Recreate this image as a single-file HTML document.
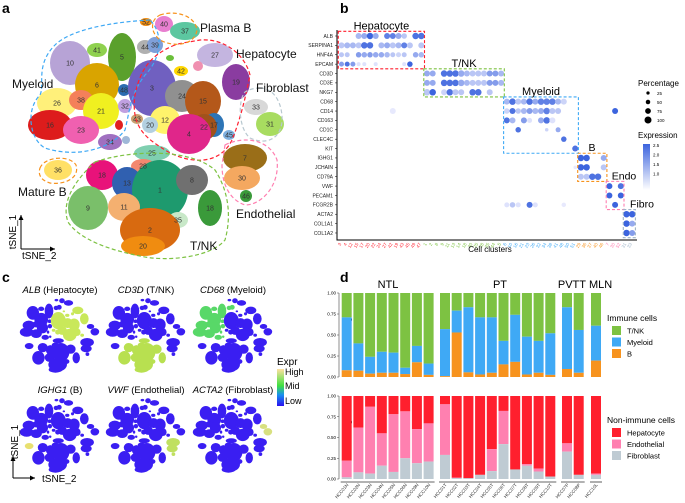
<!DOCTYPE html>
<html><head><meta charset="utf-8"><style>
html,body{margin:0;padding:0;background:#fff}
svg{display:block;font-family:"Liberation Sans",sans-serif}
</style></head><body>
<svg id="fig" width="685" height="503" viewBox="0 0 685 503" xmlns="http://www.w3.org/2000/svg">
<g id="pa"></g>
<g id="pb"></g>
<g id="pc"></g>
<g id="pd"></g>
</svg>
<script>
const NS="http://www.w3.org/2000/svg";
function mk(p,t,a,txt){const e=document.createElementNS(NS,t);for(const k in a)e.setAttribute(k,a[k]);if(txt!==undefined)e.textContent=txt;p.appendChild(e);return e;}

/* ---------- Panel a: tSNE clusters ---------- */
const clusterLabels=["10","41","5","44","39","52","40","37","27","47","42","49","19","6","48","26","38","21","32","3","24","15","17","22","12","20","43","4","16","23","50","34","53","45","33","31","7","30","46","36","25","28","18","13","1","8","11","9","18","35","2","20"];
const clusterX=[70,97,122,145,155,146,164,185,215,170,181,198,236,97,124,57,81,101,125,152,182,203,214,204,165,150,137,189,50,81,119,110,126,229,256,270,245,242,246,58,152,143,102,127,160,192,124,88,210,178,150,143];
const clusterY=[63,50,57,47,45,22,24,31,55,58,71,66,82,85,90,103,100,111,106,88,96,101,125,127,120,125,119,134,125,130,125,142,140,135,107,124,158,178,196,170,153,166,175,183,190,180,207,208,208,220,230,246];
const clusterRX=[20,10,14,8,8,6,9,15,18,4,7,5,14,22,6,20,12,18,7,24,17,18,10,13,15,8,6,22,22,18,4,12,4,6,12,14,22,18,6,14,18,12,16,15,28,16,16,20,12,10,30,22];
const clusterRY=[22,7,24,7,8,4,8,9,12,3,5,5,18,22,6,15,10,18,7,28,16,20,12,13,14,8,5,20,15,14,5,8,4,5,8,12,14,12,6,10,8,7,15,16,30,15,14,22,18,8,22,10];
const clusterColor=["#b7a3d6","#8fd14f","#5aa02c","#b0b0b0","#7f9fd8","#f08c10","#e87fd0","#5cc7a0","#c4b5e0","#6bbf3a","#ffd700","#f090b0","#8a3ca0","#d9a400","#2b6cb0","#fff07a","#f4805a","#f0f020","#c0a0e0","#7060c0","#909090","#b4581a","#2e75b6","#a0521b","#fff36b","#b3d0e0","#c8a070","#e0268a","#dd1c1c","#f060b0","#e02020","#a070c0","#9fb8d8","#7fb0e0","#d8d8d8","#a8dc60","#9a6e18","#f4a860","#3a9a3a","#ffe066","#7fcfb0","#f48870","#e8127a","#3060b0","#1e9a6e","#707070","#f4b070","#7abf6a","#3a9a3a","#c8e8c8","#d86a10","#f08c10"];
const clusterGroup=["M","M","M","M","M","P","P","P","H","H","H","H","H","M","M","M","M","M","M","H","H","H","H","H","H","H","H","H","M","M","M","M","M","H","F","F","E","E","E","MB","T","T","T","T","T","T","T","T","T","T","T","T"];

const pa=document.getElementById('pa');
mk(pa,'text',{x:2,y:13,'font-size':14,'font-weight':'bold',},'a');
const gclu=mk(pa,'g',{});
clusterLabels.forEach((l,i)=>{
  const e=mk(gclu,'ellipse',{cx:clusterX[i],cy:clusterY[i],rx:clusterRX[i],ry:clusterRY[i],fill:clusterColor[i]});
  
  
});
clusterLabels.forEach((l,i)=>{
  if(clusterRX[i]<6)return;
  const t=mk(gclu,'text',{x:clusterX[i],y:clusterY[i]+2.5,'font-size':7,'text-anchor':'middle',fill:'#333'},l);
  
  
});
const outlines=[
 ["myeloid-outline","#3fa9f5","M150,20 C110,22 70,30 55,45 C35,65 45,85 40,95 C25,110 30,140 45,148 C75,158 110,150 125,130 C130,110 130,95 145,75 C160,60 165,35 150,20Z"],
 ["hepatocyte-outline","#ff2030","M175,45 C150,55 140,70 135,95 C130,130 150,140 165,150 C190,165 220,165 232,140 C240,120 245,100 250,75 C245,55 225,38 200,40 C190,42 180,43 175,45Z"],
 ["plasma-b-outline","#f7931e","M160,15 C175,10 195,15 197,30 C195,45 175,48 160,40 C150,32 150,20 160,15Z"],
 ["fibroblast-outline","#b8c8d0","M260,88 C275,88 283,105 282,122 C280,140 265,145 250,138 C238,128 238,100 245,92 C250,89 255,88 260,88Z"],
 ["endothelial-outline","#ff7fb0","M225,145 C245,135 270,140 277,160 C280,185 262,205 245,205 C230,200 222,185 222,165Z"],
 ["tnk-outline","#7dc242","M95,162 C130,150 190,148 215,170 C228,190 232,215 225,240 C210,258 165,262 140,256 C110,250 80,240 68,222 C62,205 70,185 95,162Z"],
 ["mature-b-outline","#f7931e","M40,168 C45,156 70,155 76,165 C80,178 65,185 50,183 C40,180 38,174 40,168Z"]];
outlines.forEach(o=>{
  const p=mk(pa,'path',{d:o[2],fill:'none',stroke:o[1],'stroke-width':1.2,'stroke-dasharray':'4,2.5'});
  
  
});
[["Plasma B",200,32],["Hepatocyte",236,58],["Fibroblast",256,92],["Myeloid",12,88],["Mature B",18,196],["Endothelial",236,218],["T/NK",190,250]].forEach(l=>{
  const t=mk(pa,'text',{x:l[1],y:l[2],'font-size':12,fill:'#111'},l[0]);
  
  
});
function arrows(g,x,y,len,lab1x,lab1y,lab2x,lab2y,name){
  const a=mk(g,'g',{});
  mk(a,'path',{d:`M${x},${y} V${y-len} M${x},${y} H${x+len}`,stroke:'#000','stroke-width':1,fill:'none'});
  mk(a,'path',{d:`M${x-2.5},${y-len+5} L${x},${y-len} L${x+2.5},${y-len+5}Z M${x+len-5},${y-2.5} L${x+len},${y} L${x+len-5},${y+2.5}Z`,fill:'#000'});
  mk(a,'text',{x:lab1x,y:lab1y,'font-size':10,transform:`rotate(-90 ${lab1x} ${lab1y})`,'text-anchor':'middle'},'tSNE_1');
  mk(a,'text',{x:lab2x,y:lab2y,'font-size':10},'tSNE_2');
}
arrows(pa,21,249,34,16,232,22,259,'tsne-axis-arrows-a');

/* ---------- Panel b: dot plot ---------- */
const genes=["ALB","SERPINA1","HNF4A","EPCAM","CD3D","CD3E","NKG7","CD68","CD14","CD163","CD1C","CLEC4C","KIT","IGHG1","JCHAIN","CD79A","VWF","PECAM1","FCGR2B","ACTA2","COL1A1","COL1A2"];
const clusterOrder=["3","4","12","15","17","20","22","24","27","42","19","43","45","49","47","1","2","8","9","11","13","14","18","20","25","28","35","44","5","6","10","16","21","23","26","32","34","38","41","48","50","51","29","36","37","40","46","7","30","52","31","33"];
const dotGene=[0,0,0,0,0,0,0,0,0,0, 1,1,1,1,1,1,1,1,1,1,1,1,1, 2,2,2,2,2,2,2,2,2,2,2,2,2, 3,3,3,3,3,3,3,3, 4,4,4,4,4,4,4,4,4,4,4,4,4, 5,5,5,5,5,5,5,5,5,5,5,5,5, 6,6,6,6,6,6,6,6,6, 7,7,7,7,7,7,7,7,7,7,7, 8,8,8,8,8,8,8,8,8,8,8,8, 9,9,9,9,9,9,9, 10,10,10, 11, 12, 13,13,13, 14,14,14,14, 15,15,15,15, 16,16, 17,17, 18,18,18,18,18,18,18, 19,19, 20,20, 21,21];
const dotCol=[3,4,5,6,8,9,10,11,13,14, 0,1,2,3,4,5,7,8,9,10,11,12,14, 0,1,3,4,5,6,7,8,9,10,11,13,14, 0,1,2,3,4,6,11,12, 15,16,18,19,20,21,22,23,24,25,26,27,28, 15,16,18,19,20,21,22,23,24,25,26,27,28, 15,16,18,19,20,21,23,24,26, 29,30,31,32,33,34,35,36,37,38,39, 9,29,30,31,32,33,34,35,36,37,38,48, 29,30,32,33,35,36,37, 31,36,38, 39, 41, 42,43,46, 41,42,43,46, 42,43,44,45, 47,49, 47,49, 29,30,31,33,34,39,48, 50,51, 50,51, 50,51];
const dotPct=[.8,.8,.9,.8,.8,.8,.8,.7,.9,.9, .8,.8,.8,.8,.9,.9,.8,.8,.8,.8,.8,.8,.8, .6,.6,.7,.7,.7,.7,.7,.7,.6,.6,.6,.7,.7, .6,.6,.6,.4,.4,.4,.4,.7, .8,.8,.9,.9,.9,.9,.8,.8,.8,.8,.8,.8,.8, .8,.8,.9,.9,.9,.9,.8,.8,.8,.8,.8,.8,.8, .9,.9,.8,.9,.8,.8,.9,.9,.8, .8,.9,.8,.8,.9,.8,.9,.9,.9,.8,.8, .8,.7,.8,.7,.8,.8,.8,.8,.9,.8,.8,.8, .8,.8,.8,.6,.8,.9,.8, .7,.3,.6, .7, .8, .9,.9,.8, .3,.9,.9,.8, .8,.8,.9,.9, .8,.8, .8,.8, .6,.7,.6,.8,.6,.5,.8, .9,.9, .9,.8, .9,.8];
const dotExpr=[.4,.5,1,.5,.8,.8,.5,.3,.9,.9, .3,.4,.4,.3,.9,.9,.4,.5,.3,.4,.8,.3,.3, .3,.3,.6,.5,.6,.5,.5,.4,.3,.2,.3,.5,.4, .6,.9,.6,.1,.1,.1,.1,1, .5,.5,.9,.9,.9,.5,.4,.3,.3,.3,.6,.6,.4, .5,.5,.9,.9,.9,.5,.4,.3,.3,.3,.6,.6,.4, .3,1,.2,.9,.3,.3,.9,.9,.3, .4,.9,.3,.4,.9,.5,.8,.8,.8,.4,.2, .05,.2,.9,.3,.4,.6,.4,.5,.8,.3,.3,1, .9,.4,.6,.1,.5,.9,.1, .9,.2,.5, .9, .9, 1,1,.5, .05,1,1,.3, .3,.3,.9,.9, 1,.9, 1,1, .1,.3,.1,.9,.1,.05,1, 1,1, 1,.5, 1,.6];
const groupNames=["Hepatocyte","T/NK","Myeloid","B","Endo","Fibro"];
const groupColStart=[0,15,29,42,47,50];
const groupColEnd=[14,28,41,46,49,51];
const groupRowStart=[0,4,7,13,16,19];
const groupRowEnd=[3,6,12,15,18,21];
const groupColor=["#ff1f2e","#7dc242","#3fa9f5","#f7931e","#ff7fb0","#9fb4c8"];
const groupTitleX=[0,0,0,592,624,642];
const pctLegend=[25,50,75,100];
const exprTicks=[2.5,2.0,1.5,1.0];

const pb=document.getElementById('pb');
const bx=c=>341.5+5.7*c, by=r=>36+9.38*r;
const br=p=>1+2.5*p;
function ecol(e){const a=[240,240,255],b=[60,100,222];return `rgb(${a.map((v,i)=>Math.round(v+(b[i]-v)*e)).join(',')})`;}
mk(pb,'text',{x:340,y:13,'font-size':14,'font-weight':'bold',},'b');
mk(pb,'path',{d:`M337,30 V240 H637`,stroke:'#000','stroke-width':1,fill:'none',});
genes.forEach((g,r)=>{
  const t=mk(pb,'text',{x:333,y:by(r)+1.8,'font-size':5,'text-anchor':'end',fill:'#222'},g);
  
  
  mk(pb,'line',{x1:335,x2:337,y1:by(r),y2:by(r),stroke:'#000','stroke-width':.5});
});
clusterOrder.forEach((c,i)=>{
  let gi=0;for(let k=0;k<groupColStart.length;k++)if(i>=groupColStart[k]&&i<=groupColEnd[k])gi=k;
  const x=bx(i),y=244;
  const t=mk(pb,'text',{x:x,y:y,'font-size':4.5,fill:groupColor[gi],'text-anchor':'end',transform:`rotate(-60 ${x} ${y})`},c);
  
  
});
dotGene.forEach((g,i)=>{
  const d=mk(pb,'circle',{cx:bx(dotCol[i]),cy:by(g),r:br(dotPct[i]),fill:ecol(dotExpr[i])});
  
  
});
groupNames.forEach((n,k)=>{
  const x1=bx(groupColStart[k])-3.2,x2=bx(groupColEnd[k])+3.2,y1=by(groupRowStart[k])-4.7,y2=by(groupRowEnd[k])+4.7;
  const r=mk(pb,'rect',{x:x1,y:y1,width:x2-x1,height:y2-y1,fill:'none',stroke:groupColor[k],'stroke-width':1.1,'stroke-dasharray':'3,2'});
  
  
  const lx=k<3?(x1+x2)/2:groupTitleX[k];
  const t=mk(pb,'text',{x:lx,y:y1-2,'font-size':k<3?11:10.5,'text-anchor':'middle'},n);
  
  
});
mk(pb,'text',{x:490,y:252,'font-size':8,'text-anchor':'middle',},'Cell clusters');
mk(pb,'text',{x:638,y:86,'font-size':8,},'Percentage');
pctLegend.forEach((p,i)=>{
  const c=mk(pb,'circle',{cx:648,cy:93+9*i,r:br(p/100),fill:'#000'});
  
  
  mk(pb,'text',{x:657,y:95+9*i,'font-size':4.5},String(p));
});
mk(pb,'text',{x:638,y:138,'font-size':8,},'Expression');
const defs=mk(document.getElementById('fig'),'defs',{});
const lg=mk(defs,'linearGradient',{id:'eg',x1:0,y1:1,x2:0,y2:0});
mk(lg,'stop',{offset:0,'stop-color':'#fff'});mk(lg,'stop',{offset:1,'stop-color':'#3c64de'});
mk(pb,'rect',{x:643,y:144,width:7,height:46,fill:'url(#eg)',});
exprTicks.forEach((v,i)=>mk(pb,'text',{x:653,y:147+9.5*i,'font-size':4.5},v.toFixed(1)));

/* ---------- Panel c: feature plots ---------- */
const featGene=["ALB","CD3D","CD68","IGHG1","VWF","ACTA2"];
const featCell=["(Hepatocyte)","(T/NK)","(Myeloid)","(B)","(Endothelial)","(Fibroblast)"];
const featGroup=["H","T","M","MB","E","F"];
const featHighColor=["#c9e85a","#b8e050","#58d868","#e8e070","#c0e060","#d8e080"];
const pc=document.getElementById('pc');
mk(pc,'text',{x:2,y:282,'font-size':14,'font-weight':'bold',},'c');
const fX=[22,108,195],fY=[298,398];
featGene.forEach((g,k)=>{
  const ox=fX[k%3],oy=fY[Math.floor(k/3)],s=0.31;
  const grp=mk(pc,'g',{});
  
  
  const t=mk(grp,'text',{x:ox+38,y:oy-5,'font-size':9.5,'text-anchor':'middle'});
  mk(t,'tspan',{'font-style':'italic'},g);mk(t,'tspan',{},' '+featCell[k]);
  const m=mk(grp,'g',{transform:`translate(${ox-35*s},${oy-15*s}) scale(${s})`});
  clusterLabels.forEach((l,i)=>{
    const hi=clusterGroup[i]===featGroup[k];
    mk(m,'ellipse',{cx:clusterX[i],cy:clusterY[i],rx:clusterRX[i],ry:clusterRY[i],fill:hi?featHighColor[k]:'#3a1ef2'});
  });
});
mk(pc,'text',{x:277,y:365,'font-size':10,},'Expr');
const lg2=mk(defs,'linearGradient',{id:'cg',x1:0,y1:1,x2:0,y2:0});
mk(lg2,'stop',{offset:0,'stop-color':'#2a10f0'});mk(lg2,'stop',{offset:.3,'stop-color':'#1890f0'});mk(lg2,'stop',{offset:.55,'stop-color':'#40e040'});mk(lg2,'stop',{offset:1,'stop-color':'#ffe0a0'});
mk(pc,'rect',{x:277,y:369,width:7,height:37,fill:'url(#cg)',});
[["High",375],["Mid",389],["Low",404]].forEach(l=>mk(pc,'text',{x:285,y:l[1],'font-size':9},l[0]));
arrows(pc,13,478,22,18,442,42,482,'tsne-axis-arrows-c');

/* ---------- Panel d: stacked bars ---------- */
const samples=["HCC01N","HCC02N","HCC03N","HCC04N","HCC05N","HCC06N","HCC09N","HCC10N","HCC01T","HCC02T","HCC03T","HCC04T","HCC05T","HCC06T","HCC07T","HCC08T","HCC09T","HCC10T","HCC07P","HCC08P","HCC10L"];
const sampleGroup=[0,0,0,0,0,0,0,0,1,1,1,1,1,1,1,1,1,1,2,2,3];
const groupLabels=["NTL","PT","PVTT","MLN"];
const tnk=[.29,.60,.76,.70,.71,.89,.63,.84,.43,.21,.17,.29,.29,.57,.26,.52,.57,.48,.17,.44,.39];
const myeloid=[.63,.325,.20,.25,.24,.075,.195,.135,.56,.26,.775,.68,.66,.28,.56,.45,.38,.495,.735,.51,.415];
const bcell=[.08,.075,.04,.05,.05,.035,.175,.025,.01,.53,.055,.03,.05,.15,.18,.03,.05,.025,.095,.05,.195];
const hepatocyte=[.78,.38,.13,.45,.22,.185,.40,.33,.10,.985,.99,.95,.64,.18,.885,.82,.875,.97,.57,.95,.935];
const endothelial=[.20,.54,.805,.39,.695,.565,.41,.46,.61,.005,0,0,.265,.40,0,.02,.035,0,.10,0,.015];
const fibroblast=[.02,.08,.065,.16,.085,.25,.19,.21,.29,.01,.01,.05,.095,.42,.115,.16,.09,.03,.33,.05,.05];
const yTicks=[1,.75,.5,.25,0];
const pd=document.getElementById('pd');
mk(pd,'text',{x:340,y:282,'font-size':14,'font-weight':'bold',},'d');
const groupStartX=[341.7,440,562,591],step=11.7,bw=10;
const xPos=i=>{const g=sampleGroup[i];let n=0;for(let j=0;j<i;j++)if(sampleGroup[j]===g)n++;return groupStartX[g]+n*step;};
const panels=[{top:293,bot:377,series:[tnk,myeloid,bcell],colors:["#7dc242","#3fa9f5","#f7931e"],names:["tnk","myeloid","b"]},
              {top:396,bot:479,series:[hepatocyte,endothelial,fibroblast],colors:["#ff1f2e","#ff80b0","#bfcbd3"],names:["hepatocyte","endothelial","fibroblast"]}];
panels.forEach((P,pi)=>{
  const ys=v=>P.bot-(P.bot-P.top)*v;
  const H=P.bot-P.top;
  const ax=mk(pd,'g',{});
  mk(ax,'line',{x1:339,x2:339,y1:P.top,y2:P.bot,stroke:'#444','stroke-width':.6});
  yTicks.forEach(v=>{mk(ax,'text',{x:336,y:ys(v)+1.5,'font-size':4.5,'text-anchor':'end'},v.toFixed(2));mk(ax,'line',{x1:337,x2:339,y1:ys(v),y2:ys(v),stroke:'#444','stroke-width':.5});});
  const yl=(P.top+P.bot)/2;
  mk(ax,'text',{x:350,y:yl,'font-size':9,'text-anchor':'middle',transform:`rotate(-90 350 ${yl})`},'Percentage');
  samples.forEach((s,i)=>{
    let tot=0;P.series.forEach(ser=>tot+=ser[i]);
    let acc=0;
    P.series.forEach((ser,k)=>{
      const v=ser[i]/tot;
      const y1=P.top+H*acc;acc+=v;
      const r=mk(pd,'rect',{x:xPos(i),y:y1,width:bw,height:Math.max(0,H*v),fill:P.colors[k]});
      
      
    });
  });
});
const gLabX=[388,500,586,589];
const gLabAnchor=["middle","middle","end","start"];
groupLabels.forEach((g,k)=>{
  const t=mk(pd,'text',{x:gLabX[k],y:288,'font-size':11,'text-anchor':gLabAnchor[k]},g);
  
  
  const idx=sampleGroup.map((v,i)=>v===k?i:-1).filter(i=>i>=0);
  const x1=xPos(idx[0])-1,x2=xPos(idx[idx.length-1])+bw+1;
  mk(pd,'line',{x1:x1,x2:x2,y1:482,y2:482,stroke:'#333','stroke-width':.8});
});
samples.forEach((s,i)=>{
  const x=xPos(i)+bw/2+2,y=485;
  const t=mk(pd,'text',{x:x,y:y,'font-size':4.5,'text-anchor':'end',fill:'#333',transform:`rotate(-50 ${x} ${y})`},s);
  
  
});
function legend(title,y0,names,colors,id){
  const g=mk(pd,'g',{});
  mk(g,'text',{x:607,y:y0,'font-size':8.5},title);
  names.forEach((n,k)=>{mk(g,'rect',{x:612,y:y0+5+k*11.5,width:9,height:9,fill:colors[k]});mk(g,'text',{x:627,y:y0+12.5+k*11.5,'font-size':7.5},n);});
}
legend('Immune cells',321,["T/NK","Myeloid","B"],panels[0].colors,'legend-immune');
legend('Non-immune cells',423,["Hepatocyte","Endothelial","Fibroblast"],panels[1].colors,'legend-non-immune');
</script>
</body></html>
